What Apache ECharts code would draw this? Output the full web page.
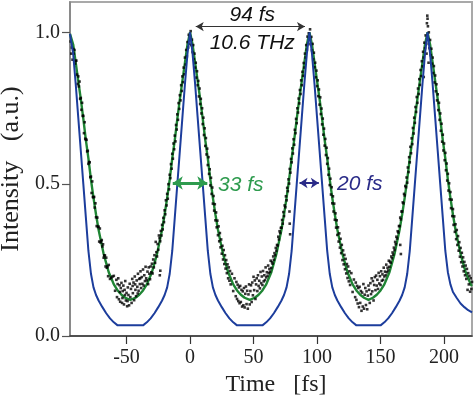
<!DOCTYPE html>
<html>
<head>
<meta charset="utf-8">
<script src="https://cdn.jsdelivr.net/npm/echarts@6/dist/echarts.min.js"></script>
<style>
  html, body { margin: 0; padding: 0; background: #fff; }
  #chart { width: 474px; height: 397px; }
</style>
</head>
<body>
<div id="chart"></div>
<script>
// tick positions
const xTicks = [-50, 0, 50, 100, 150, 200];
const yTicks = [0, 0.5, 1.0];

// simulated pulse train (blue), [time fs, intensity]
const blueSim = [
  [-94.5, .995], [-94, 1], [-92, .93], [-90, .83], [-88, .72], [-86, .61], [-84, .5], [-82, .39], [-80, .28],
  [-78, .205], [-76, .16], [-74, .135], [-72, .117], [-69, .095], [-66, .075], [-63, .058], [-60, .045], [-57, .035],
  [-37, .035], [-34, .045], [-31, .058], [-28, .075], [-25, .095], [-22, .117], [-20, .135], [-18, .16], [-16, .205],
  [-14, .28], [-12, .39], [-10, .5], [-8, .61], [-6, .72], [-4, .83], [-2, .93], [0, 1], [2, .93], [4, .83], [6, .72],
  [8, .61], [10, .5], [12, .39], [14, .28], [16, .205], [18, .16], [20, .135], [22, .117], [25, .095], [28, .075],
  [31, .058], [34, .045], [37, .035],
  [57, .035], [60, .045], [63, .058], [66, .075], [69, .095], [72, .117], [74, .135], [76, .16], [78, .205], [80, .28],
  [82, .39], [84, .5], [86, .61], [88, .72], [90, .83], [92, .93], [94, 1], [96, .93], [98, .83], [100, .72], [102, .61],
  [104, .5], [106, .39], [108, .28], [110, .205], [112, .16], [114, .135], [116, .117], [119, .095], [122, .075],
  [125, .058], [128, .045], [131, .035],
  [150, .035], [153, .045], [156, .058], [159, .075], [162, .095], [165, .117], [167, .135], [169, .16], [171, .205],
  [173, .28], [175, .39], [177, .5], [179, .61], [181, .72], [183, .83], [185, .93], [187, 1], [189, .93], [191, .83],
  [193, .72], [195, .61], [197, .5], [199, .39], [201, .28], [203, .21], [205, .17], [207, .145], [210, .125],
  [213, .107], [216, .095], [219, .085], [222, .078]
];

// fit to the measurement (green)
const greenFit = [
  [-94.5, .995], [-94, 1], [-92, .96], [-90, .9], [-88, .84], [-86, .78], [-84, .715], [-82, .645], [-80, .585],
  [-78, .515], [-76, .455], [-74, .4], [-72, .35], [-70, .31], [-68, .27], [-66, .24], [-64, .21], [-62, .19],
  [-60, .17], [-57, .15], [-54, .136], [-51, .126], [-47, .119],
  [-43, .126], [-40, .136], [-37, .15], [-34, .17], [-32, .19], [-30, .21], [-28, .24], [-26, .27], [-24, .31],
  [-22, .35], [-20, .4], [-18, .455], [-16, .515], [-14, .585], [-12, .645], [-10, .715], [-8, .78], [-6, .84],
  [-4, .9], [-2, .96], [0, 1],
  [2, .96], [4, .9], [6, .84], [8, .78], [10, .715], [12, .645], [14, .585], [16, .515], [18, .455], [20, .4],
  [22, .35], [24, .31], [26, .27], [28, .24], [30, .21], [32, .19], [34, .17], [37, .15], [40, .136], [43, .126],
  [47, .119],
  [51, .126], [54, .136], [57, .15], [60, .17], [62, .19], [64, .21], [66, .24], [68, .27], [70, .31], [72, .35],
  [74, .4], [76, .455], [78, .515], [80, .585], [82, .645], [84, .715], [86, .78], [88, .84], [90, .9], [92, .96],
  [94, 1],
  [96, .96], [98, .9], [100, .84], [102, .78], [104, .715], [106, .645], [108, .585], [110, .515], [112, .455],
  [114, .4], [116, .35], [118, .31], [120, .27], [122, .24], [124, .21], [126, .19], [128, .17], [131, .15],
  [134, .136], [137, .126], [140.5, .119],
  [144, .126], [147, .136], [150, .15], [153, .17], [155, .19], [157, .21], [159, .24], [161, .27], [163, .31],
  [165, .35], [167, .4], [169, .455], [171, .515], [173, .585], [175, .645], [177, .715], [179, .78], [181, .84],
  [183, .9], [185, .96], [187, 1],
  [189, .96], [191, .9], [193, .84], [195, .78], [197, .715], [199, .645], [201, .585], [203, .515], [205, .455],
  [207, .4], [209, .35], [211, .31], [213, .27], [215, .24], [217, .21], [219, .19], [221, .17], [222, .165]
];

// measured points (black)
const dots = [
  [-94, .97], [-93.5, .93], [-93, .95], [-92.5, .91], [-92, .945], [-91.5, .93], [-91, .942], [-90.5, .897],
  [-90, .906], [-89.5, .907], [-89, .861], [-88.5, .83], [-88, .855], [-87.5, .822], [-87, .838], [-86.5, .781],
  [-86, .784], [-85.5, .745], [-85, .768], [-84.5, .725], [-84, .725], [-83.5, .668], [-83, .704], [-82.5, .65],
  [-82, .647], [-81.5, .646], [-81, .608], [-80.5, .61], [-80, .567], [-79.5, .573], [-79, .572], [-78.5, .523],
  [-78, .525], [-77.5, .471], [-77, .509], [-76.5, .458], [-76, .457], [-75.5, .458], [-75, .423], [-74.5, .437],
  [-74, .391], [-73.5, .362], [-73, .39], [-72.5, .359], [-72, .36], [-71.5, .311], [-71, .354], [-70.5, .308],
  [-70, .312], [-69.5, .316], [-69, .295], [-68.5, .302], [-68, .258], [-67.5, .266], [-67, .265], [-66.5, .229],
  [-66, .258], [-65.5, .225], [-65, .229], [-64.5, .197], [-64, .234], [-63, .188], [-62, .192], [-61, .196],
  [-60, .198], [-59, .149], [-58, .185], [-57.5, .128], [-57, .171], [-56.5, .19], [-56, .121], [-55.5, .167],
  [-55.2, .145], [-55, .113], [-54.5, .158], [-54, .175], [-53.5, .109], [-53.2, .125], [-53, .148], [-52.5, .166],
  [-52, .104], [-51.5, .152], [-51.2, .135], [-51, .181], [-50.5, .117], [-50, .142], [-49.5, .098], [-49.2, .115],
  [-49, .16], [-48.5, .135], [-48, .101], [-47.5, .172], [-47, .128],
  [-46.5, .155], [-46, .109], [-45.5, .188], [-45.2, .165], [-45, .141], [-44.5, .176], [-44, .118], [-43.5, .196],
  [-43.2, .17], [-43, .152], [-42.5, .131], [-42, .183], [-41.5, .162], [-41.2, .14], [-41, .205], [-40.5, .149],
  [-40, .188], [-39.5, .171], [-39.2, .19], [-39, .213], [-38.5, .158], [-38, .194], [-37.5, .172], [-37, .219],
  [-36.5, .166], [-36, .2], [-35.5, .181], [-35, .228], [-34.5, .19], [-34, .183], [-33.5, .212], [-33, .171],
  [-32.5, .226], [-32, .205], [-31.5, .187], [-31, .229], [-30.5, .21], [-30, .238], [-29.5, .206], [-29, .252],
  [-28.5, .226], [-28, .266], [-27.5, .241], [-27, .31], [-26.5, .276], [-26, .262], [-25.5, .303], [-25, .284],
  [-24.5, .331], [-24, .322], [-23.8, .2], [-23.5, .312], [-23.4, .215], [-23, .346], [-22.5, .331], [-22, .366],
  [-21.5, .351], [-21, .389], [-20.5, .375], [-20, .414], [-19.5, .401], [-19, .447], [-18.5, .43], [-18, .468],
  [-17.5, .452], [-17, .5], [-16.5, .483], [-16, .531], [-15.5, .52], [-15, .566], [-14.5, .551], [-14, .6],
  [-13.5, .584], [-13, .634], [-12.5, .615], [-12, .66], [-11.5, .641], [-11, .695], [-10.5, .68], [-10, .73],
  [-9.5, .712], [-9, .767], [-8.5, .748], [-8, .793], [-7.5, .776], [-7, .826], [-6.5, .807], [-6, .855],
  [-5.5, .836], [-5, .884], [-4.5, .862], [-4, .917], [-3.5, .894], [-3, .942], [-2.5, .921], [-2, .968],
  [-1.5, .95], [-1, .992], [-.5, .962], [0, .985],
  [.5, 1.004], [1, .958], [1.5, .976], [2, .935], [2.5, .958], [3, .912], [3.5, .93], [4, .884], [4.5, .9],
  [5, .851], [5.5, .872], [6, .826], [6.5, .84], [7, .789], [7.5, .815], [8, .764], [8.5, .781], [9, .733],
  [9.5, .75], [10, .698], [10.5, .719], [11, .662], [11.5, .684], [12, .626], [12.5, .652], [13, .598], [13.5, .617],
  [14, .563], [14.5, .589], [15, .534], [15.5, .549], [16, .496], [16.5, .521], [17, .468], [17.5, .489], [18, .436],
  [18.5, .461], [19, .413], [19.5, .434], [20, .381], [20.5, .407], [21, .358], [21.5, .38], [22, .332], [22.5, .361],
  [23, .312], [23.5, .339], [24, .292], [24.5, .318], [25, .271], [25.5, .297], [26, .252], [26.5, .283], [27, .237],
  [27.5, .266], [28, .222], [28.5, .25], [29, .207], [29.5, .236], [30, .19], [30.5, .226], [31, .182], [31.5, .214],
  [32, .17], [33, .205], [34, .148], [35, .19], [36, .131], [36.5, .178], [37, .122], [37.5, .169], [38, .115],
  [38.5, .16], [39, .108], [39.5, .165], [40, .112], [40.5, .152], [41, .097], [41.5, .147], [42, .101], [42.5, .158],
  [43, .094], [43.5, .139], [44, .163], [44.5, .105], [45, .149], [45.5, .09], [46, .137], [46.5, .17], [47, .104],
  [47.5, .148], [48, .167], [48.5, .112], [49, .176], [49.5, .134], [50, .195], [50.5, .151], [51, .183], [51.5, .122],
  [52, .17], [52.5, .19], [53, .148], [53.5, .2], [54, .165], [54.5, .182], [55, .157], [55.5, .211], [56, .174],
  [56.5, .196], [57, .168], [57.5, .214], [58, .18], [58.5, .2], [59, .184], [59.5, .226], [60, .193], [60.5, .21],
  [61, .198], [61.5, .232], [62, .207], [62.5, .221], [63, .212], [63.5, .248], [64, .224], [64.5, .243], [65, .238],
  [65.5, .262], [66, .251], [66.5, .273], [67, .266], [67.5, .29], [68, .281], [68.5, .3], [69, .298], [69.5, .327],
  [70, .318], [70.5, .345], [71, .339], [71.5, .356], [72, .357], [72.5, .382], [73, .37], [73.5, .408], [74, .395],
  [74.5, .43], [75, .424], [75.5, .46], [76, .447], [76.5, .488], [77, .477], [77.5, .516], [78, .502], [78.3, .41],
  [78.5, .37], [78.8, .335], [78.5, .55], [79, .538], [79.5, .583], [80, .572], [80.5, .618], [81, .601], [81.5, .648],
  [82, .63], [82.5, .679], [83, .668], [83.5, .715], [84, .701], [84.5, .75], [85, .736], [85.5, .782], [86, .766],
  [86.5, .81], [87, .797], [87.5, .842], [88, .826], [88.5, .87], [89, .857], [89.5, .899], [90, .884], [90.5, .93],
  [91, .917], [91.5, .958], [92, .943], [92.5, .986], [93, .962], [93.5, .997], [94, .976],
  [94.5, 1.01], [95, .961], [95.5, .985], [96, .941], [96.5, .962], [97, .911], [97.5, .933], [98, .885], [98.5, .9],
  [99, .852], [99.5, .874], [100, .823], [100.5, .842], [101, .79], [101.5, .812], [102, .762], [102.5, .786],
  [103, .731], [103.5, .749], [104, .697], [104.5, .716], [105, .663], [105.5, .683], [106, .627], [106.5, .649],
  [107, .596], [107.5, .62], [108, .567], [108.5, .586], [109, .531], [109.5, .551], [110, .497], [110.5, .518],
  [111, .466], [111.5, .49], [112, .437], [112.5, .46], [113, .41], [113.5, .436], [114, .383], [114.5, .404],
  [115, .357], [115.5, .381], [116, .333], [116.5, .358], [117, .311], [117.5, .338], [118, .291], [118.5, .32],
  [119, .273], [119.5, .3], [120, .25], [120.5, .282], [121, .236], [121.5, .267], [122, .22], [122.5, .254],
  [123, .206], [123.5, .237], [124, .191], [124.5, .229], [125, .18], [125.5, .213], [126, .168], [127, .207],
  [128, .145], [129, .186], [130, .128], [130.5, .176], [131, .119], [131.5, .165], [132, .107], [132.5, .158],
  [133, .095], [133.5, .162], [134, .109], [134.5, .148], [135, .083], [135.5, .143], [136, .097], [136.5, .171],
  [137, .09], [137.5, .136], [138, .158], [138.5, .102], [139, .147], [139.5, .088], [140, .133], [140.5, .166],
  [141, .152], [141.5, .109], [142, .174], [142.5, .138], [143, .19], [143.5, .147], [144, .181], [144.5, .117],
  [145, .168], [145.5, .194], [146, .151], [146.5, .199], [147, .166], [147.5, .185], [148, .155], [148.5, .208],
  [149, .173], [149.5, .197], [150, .168], [150.5, .213], [151, .182], [151.5, .203], [152, .185], [152.5, .225],
  [153, .196], [153.5, .212], [154, .2], [154.5, .235], [155, .21], [155.5, .225], [156, .216], [156.5, .248],
  [157, .228], [157.5, .245], [158, .241], [158.5, .262], [159, .256], [159.5, .275], [160, .268], [160.5, .291],
  [161, .283], [161.5, .31], [162, .302], [162.5, .327], [163, .321], [163.5, .345], [164, .341], [164.5, .362],
  [165, .362], [165.5, .39], [165.5, .3], [166, .384], [166, .27], [166.5, .41], [167, .41], [167.5, .44], [168, .437],
  [168.5, .468], [169, .463], [169.5, .494], [170, .49], [170.5, .522], [171, .505], [171.5, .555], [172, .54],
  [172.5, .589], [173, .572], [173.5, .623], [174, .602], [174.5, .651], [175, .632], [175.5, .685], [176, .667],
  [176.5, .719], [177, .702], [177.5, .754], [178, .738], [178.5, .787], [179, .768], [179.5, .815], [180, .797],
  [180.5, .846], [181, .827], [181.5, .876], [182, .856], [182.5, .905], [183, .888], [183.5, .936], [184, .917],
  [184, .853], [184.5, .966], [185, .948], [185.5, .99], [186, .962], [186.2, .93], [186.5, 1.03], [186.8, 1.055],
  [187, 1.045], [187.3, 1.02], [187.8, .9],
  [187.5, .978], [188, 1], [188.5, .948], [189, .975], [189.5, .925], [190, .946], [190.5, .897], [191, .917],
  [191.5, .866], [192, .889], [192.5, .835], [193, .858], [193.5, .806], [194, .829], [194.5, .776], [195, .796],
  [195.5, .744], [196, .768], [196.5, .712], [197, .733], [197.5, .676], [198, .699], [198.5, .64], [199, .663],
  [199.5, .611], [200, .634], [200.5, .579], [201, .603], [201.5, .546], [202, .568], [202.5, .512], [203, .534],
  [203.5, .479], [204, .503], [204.5, .45], [205, .474], [205.5, .421], [206, .449], [206.5, .395], [207, .418],
  [207.5, .366], [208, .394], [208.5, .343], [209, .368], [209.5, .319], [210, .349], [210.5, .3], [211, .329],
  [211.5, .281], [212, .309], [212.5, .261], [213, .29], [213.5, .243], [214, .274], [214.5, .229], [215, .259],
  [215.5, .213], [216, .244], [216.5, .2], [217, .232], [217.5, .188], [218, .221], [218.5, .152], [219, .207],
  [219.5, .17], [220, .198], [220.5, .146], [221, .19], [221.5, .155], [222, .178]
];

const serif = '"Liberation Serif", "Times New Roman", serif';
const sans = '"Liberation Sans", Arial, sans-serif';

const chart = echarts.init(document.getElementById('chart'));

function arrowSeries(from, to, color, width, size) {
  return {
    type: 'line',
    data: [],
    silent: true,
    z: 6,
    markLine: {
      silent: true,
      animation: false,
      symbol: ['arrow', 'arrow'],
      symbolSize: size,
      label: { show: false },
      emphasis: { disabled: true },
      lineStyle: { color: color, width: width, type: 'solid' },
      data: [[{ coord: from }, { coord: to }]]
    }
  };
}

let option = {
  animation: false,
  grid: {
    left: 70, right: 2, top: 2, bottom: 61,
    outerBoundsMode: 'none',
    show: true, borderColor: '#a9a9a9', borderWidth: 2
  },
  xAxis: {
    type: 'value',
    min: -94.5,
    max: 222,
    name: 'Time   [fs]',
    nameLocation: 'middle',
    nameGap: 34,
    nameTextStyle: { fontFamily: serif, fontSize: 24, color: '#222', padding: [0, 0, 0, 10] },
    axisLine: { show: true, onZero: false, lineStyle: { color: '#333', width: 1.5 } },
    axisTick: { show: true, customValues: xTicks, length: 8, lineStyle: { color: '#333', width: 1.2 } },
    axisLabel: { customValues: xTicks, margin: 12, fontFamily: serif, fontSize: 20, color: '#222' },
    splitLine: { show: false }
  },
  yAxis: {
    type: 'value',
    min: 0,
    max: 1.1,
    name: 'Intensity   (a.u.)',
    nameLocation: 'middle',
    nameGap: 35,
    nameTextStyle: { fontFamily: serif, fontSize: 26, color: '#222' },
    axisLine: { show: true, onZero: false, lineStyle: { color: '#808080', width: 1.5 } },
    axisTick: { show: true, customValues: yTicks, length: 8, lineStyle: { color: '#555', width: 1.2 } },
    axisLabel: {
      customValues: yTicks, margin: 10, fontFamily: serif, fontSize: 20, color: '#222',
      formatter: (v) => v.toFixed(1)
    },
    splitLine: { show: false }
  },
  series: [
    {
      type: 'line', data: greenFit, symbol: 'none', silent: true, z: 2,
      lineStyle: { color: '#1f8534', width: 2.4 }
    },
    {
      type: 'scatter', data: dots, symbol: 'rect', symbolSize: 2.6, silent: true, z: 3,
      itemStyle: { color: '#000' }
    },
    {
      type: 'line', data: blueSim, symbol: 'none', silent: true, z: 4,
      lineStyle: { color: '#1c3d9c', width: 2 }
    },
    arrowSeries([4.5, 1.019], [90.5, 1.019], '#333', 1, [7, 8]),
    arrowSeries([-13.6, 0.504], [13.6, 0.504], '#2e9b4e', 3, [10, 10]),
    arrowSeries([86.2, 0.504], [101.4, 0.504], '#2a2b88', 2, [8, 8])
  ]
};
option && chart.setOption(option);

// annotations placed through the axes
const notes = [
  { text: '94 fs', at: [49, 1.056], align: 'center', color: '#111' },
  { text: '10.6 THz', at: [49, 0.966], align: 'center', color: '#111' },
  { text: '33 fs', at: [22, 0.496], align: 'left', color: '#2e9b4e' },
  { text: '20 fs', at: [115.7, 0.499], align: 'left', color: '#2a2b88' }
];
chart.setOption({
  graphic: notes.map((n) => {
    const p = chart.convertToPixel({ gridIndex: 0 }, n.at);
    return {
      type: 'text', x: p[0], y: p[1], silent: true, z: 10,
      style: {
        text: n.text, fill: n.color,
        fontFamily: sans, fontSize: 21, fontStyle: 'italic',
        align: n.align, verticalAlign: 'middle',
        textAlign: n.align, textVerticalAlign: 'middle'
      }
    };
  })
});
</script>
</body>
</html>
